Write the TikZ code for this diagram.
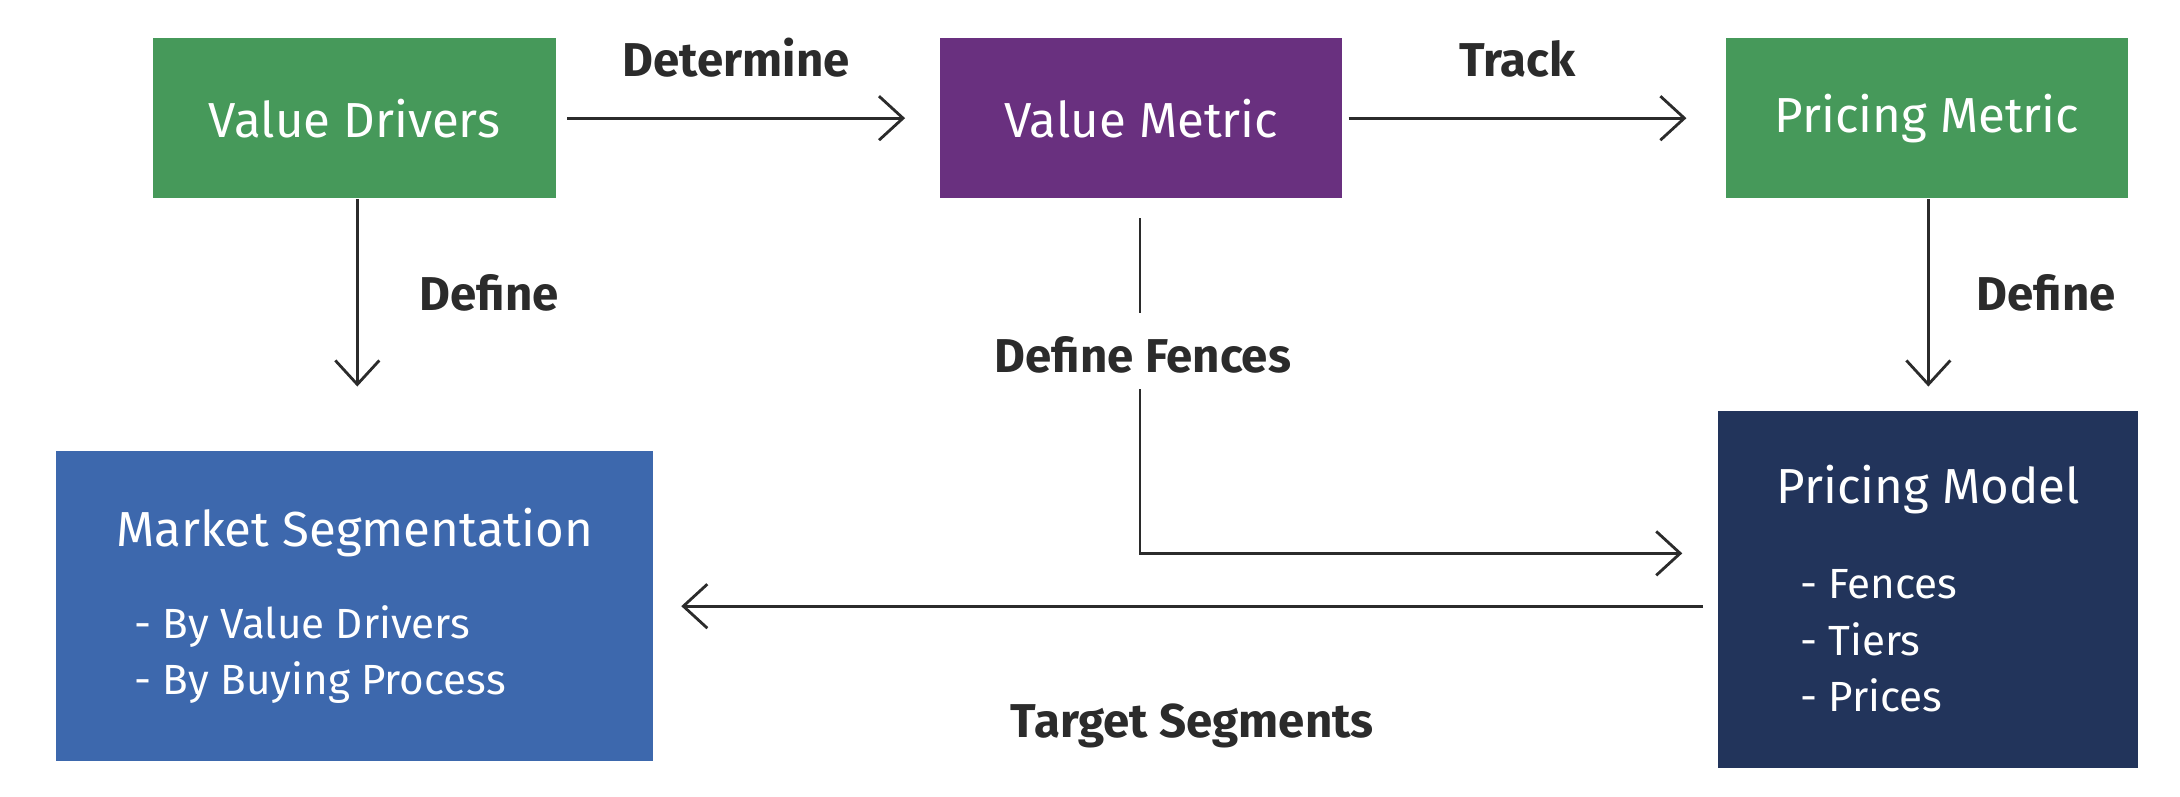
\documentclass[tikz,border=0pt]{standalone}
\usepackage{fontspec}
\setmainfont{Fira Sans}
\usetikzlibrary{arrows.meta,positioning}
\definecolor{drvgreen}{HTML}{46995A}
\definecolor{metpurple}{HTML}{69307F}
\definecolor{segblue}{HTML}{3D68AD}
\definecolor{modnavy}{HTML}{22345B}
\definecolor{inkgray}{HTML}{2B2B2B}
\tikzset{>={Straight Barb[length=2.4mm,width=4.4mm]}}
\tikzset{
  box/.style={fill=#1,text=white,font=\fontsize{14}{16}\selectfont,minimum width=4.02cm,minimum height=1.6cm,inner sep=0pt},
  lbl/.style={text=inkgray,font=\fontsize{13.5}{16}\selectfont\bfseries},
  lst/.style={text=white,font=\fontsize{12}{16}\selectfont,align=left,anchor=west},
  link/.style={draw=inkgray,line width=0.8pt}
}

\begin{document}
\begin{tikzpicture}[x=0.139mm,y=-0.139mm]
  \useasboundingbox (0,0) rectangle (1568,573);
  % top row
  \node[box=drvgreen] (drivers) at (255,85) {Value Drivers};
  \node[box=metpurple] (vmetric) at (821,85) {Value Metric};
  \node[box=drvgreen] (pmetric) at (1386,85) {Pricing Metric};
  % bottom row
  \node[box=segblue,minimum width=5.97cm,minimum height=3.1cm] (segment) at (255,436) {};
  \node[text=white,font=\fontsize{14}{16}\selectfont] at (255,383) {Market Segmentation};
  \node[lst] at (88,471) {- By Value Drivers\\- By Buying Process};
  \node[box=modnavy,minimum width=4.2cm,minimum height=3.56cm] (model) at (1387,424) {};
  \node[text=white,font=\fontsize{14}{16}\selectfont] at (1387,352) {Pricing Model};
  \node[lst] at (1286,461) {- Fences\\- Tiers\\- Prices};
  % connectors
  \coordinate (detA) at (408,85);   \coordinate (detB) at (651,85);
  \coordinate (trkA) at (970,85);   \coordinate (trkB) at (1213,85);
  \coordinate (defL) at (257,278);  \coordinate (defR) at (1387,278);
  \coordinate (fenA) at (820,157);  \coordinate (fenB) at (820,225);
  \coordinate (fenC) at (820,280);  \coordinate (fenD) at (1210,398);
  \coordinate (tgtA) at (1225,436); \coordinate (tgtB) at (490,436);
  \draw[link,->] (detA) -- (detB) node[lbl,midway,above=8pt] {Determine};
  \draw[link,->] (trkA) -- (trkB) node[lbl,midway,above=8pt] {Track};
  \draw[link,->] (drivers.south -| defL) -- (defL) node[lbl,pos=0.5,right=14pt] {Define};
  \draw[link,->] (pmetric.south -| defR) -- (defR) node[lbl,pos=0.5,right=10pt] {Define};
  \draw[link] (fenA) -- (fenB);
  \node[lbl] (fences) at (822,255) {Define Fences};
  \draw[link,->] (fenC) |- (fenD);
  \draw[link,->] (tgtA) -- (tgtB) node[lbl,midway,below=24pt] {Target Segments};
\end{tikzpicture}
\end{document}
